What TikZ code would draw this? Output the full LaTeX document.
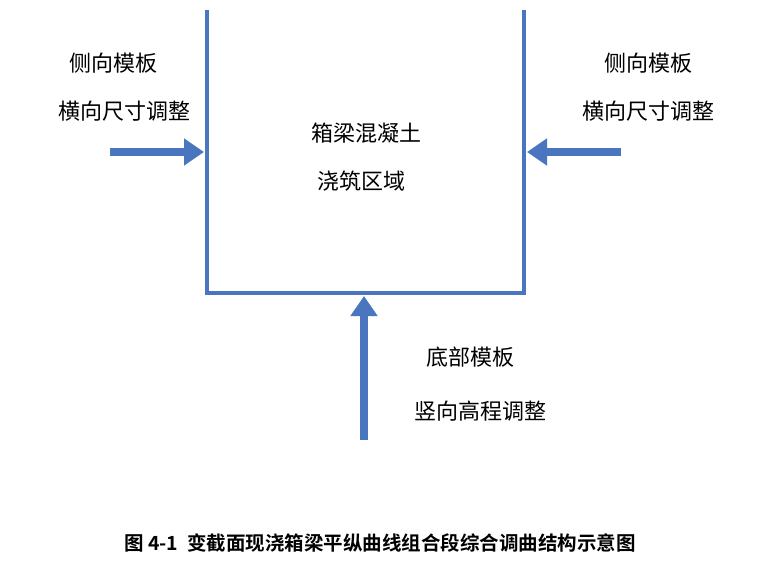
\documentclass[tikz,border=0pt]{standalone}
\usepackage{fontspec}
\newfontfamily\cjk{Noto Sans CJK SC}
\newfontfamily\cjkb{Noto Sans CJK SC Bold}
\usetikzlibrary{arrows.meta}
\definecolor{bl}{HTML}{4A76C0}
\begin{document}
\begin{tikzpicture}[x=1pt,y=-1pt,
  lbl/.style={font=\cjk\fontsize{22}{26}\selectfont,inner sep=0pt},
  push/.style={bl,line width=8pt,-{Triangle[length=20pt,width=26pt]}}]
\useasboundingbox (0,0) rectangle (760,570);
\coordinate (tl) at (207,10); \coordinate (bl0) at (207,293);
\coordinate (br) at (524,293); \coordinate (tr) at (524,10);
\draw[bl,line width=3.5pt] (tl) -- (bl0) -- (br) -- (tr);
\coordinate (la) at (110,152); \coordinate (lb) at (204,152);
\coordinate (ra) at (621,152); \coordinate (rb) at (527,152);
\coordinate (ba) at (364,440); \coordinate (bb) at (364,296);
\draw[push] (la) -- (lb);
\draw[push] (ra) -- (rb);
\draw[push] (ba) -- (bb);
\node[lbl] (l1) at (113,63) {侧向模板};
\node[lbl] (l2) at (124,111) {横向尺寸调整};
\node[lbl] (r1) at (648,63) {侧向模板};
\node[lbl] (r2) at (648,111) {横向尺寸调整};
\node[lbl] (c1) at (366,133) {箱梁混凝土};
\node[lbl] (c2) at (361,181) {浇筑区域};
\node[lbl] (b1) at (470,357) {底部模板};
\node[lbl] (b2) at (480,411) {竖向高程调整};
\node[font=\cjkb\fontsize{19.5}{22}\selectfont,inner sep=0pt] (cap) at (380,543) {图 4-1\ \ 变截面现浇箱梁平纵曲线组合段综合调曲结构示意图};
\end{tikzpicture}
\end{document}
